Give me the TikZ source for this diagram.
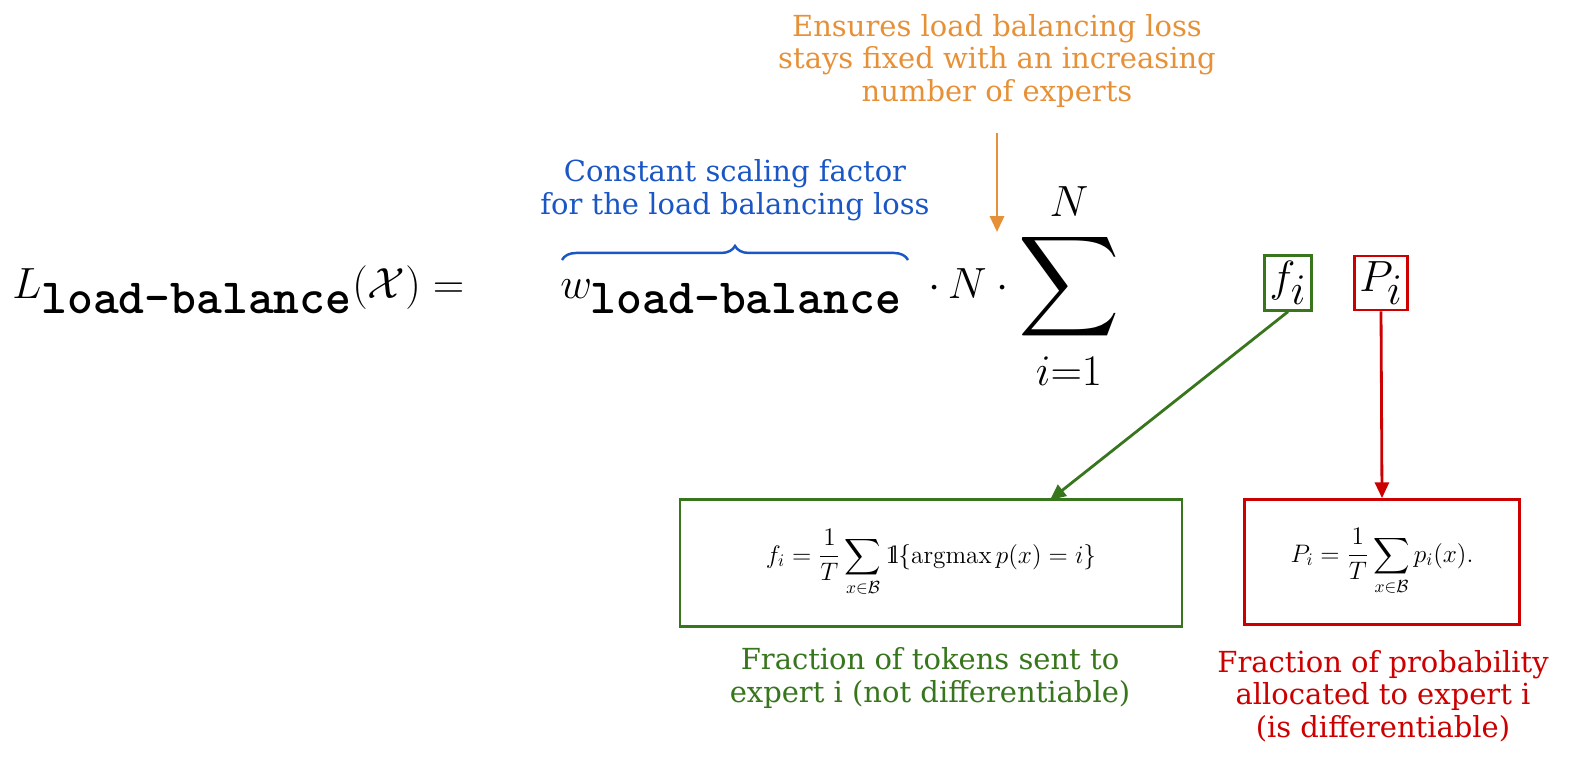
\documentclass[tikz,border=0pt]{standalone}
\usepackage{amsmath,amssymb}
\usepackage{fontspec}
\newfontfamily\ann{DejaVu Serif}
\usetikzlibrary{decorations.pathreplacing,arrows.meta}
\definecolor{cblue}{HTML}{1A56C4}
\definecolor{corange}{HTML}{E69138}
\definecolor{cgreen}{HTML}{38761D}
\definecolor{cred}{HTML}{CC0000}
\tikzset{
  px/.style={x=0.02cm,y=-0.02cm},
  big/.style={inner sep=0pt,font=\fontsize{40}{48}\selectfont},
  note/.style={font=\ann\fontsize{16.5}{18.5}\selectfont,align=center,inner sep=0pt},
  arr/.style={line width=1.6pt,-{Triangle[length=9pt,width=8pt]}},
  fbox/.style={draw,line width=1.6pt}
}
\newcommand{\ttsub}[1]{\textbf{\texttt{#1}}}
\newcommand{\indic}{\mathrm{1}\mkern-4.5mu\mathrm{l}}
\begin{document}
\begin{tikzpicture}[px]
\useasboundingbox (0,0) rectangle (1574,764);
% main equation
\node[big,anchor=base west] (lhs) at (12,298) {$L_{\ttsub{load-balance}}(\mathcal{X}) =$};
\node[big,anchor=base west] (w) at (560,298) {$w_{\ttsub{load-balance}}$};
\node[big,anchor=base west] (sum) at (928,298) {$\displaystyle\cdot\, N \cdot \sum_{i=1}^{N}$};
\node[big,fbox,draw=cgreen,inner sep=3pt] (f) at (1288,283) {$f_i$};
\node[big,fbox,draw=cred,inner sep=3pt] (P) at (1381,283) {$P_i$};
% brace
\draw[cblue,line width=1.4pt,decorate,decoration={brace,amplitude=8pt}]
  (562,260) coordinate (b1) -- (908,260) coordinate (b2);
\node[note,text=cblue] (blue) at (735,190) {Constant scaling factor\\for the load balancing loss};
% orange
\node[note,text=corange] (orange) at (997,61) {Ensures load balancing loss\\stays fixed with an increasing\\number of experts};
\coordinate (oa) at (997,232);
\coordinate (os) at (997,133);
\draw[arr,corange] (os) -- (oa);
% boxes
\node[fbox,draw=cgreen,minimum width=502*0.02cm,minimum height=127*0.02cm,font=\Large] (fb) at (931,563)
  {$\displaystyle f_i = \frac{1}{T}\sum_{x\in\mathcal{B}} \indic\{\operatorname{argmax} p(x) = i\}$};
\node[fbox,draw=cred,minimum width=275*0.02cm,minimum height=125*0.02cm,font=\Large] (pb) at (1382,562)
  {$\displaystyle P_i = \frac{1}{T}\sum_{x\in\mathcal{B}} p_i(x).$};
\coordinate (ge) at (1050,500);
\draw[arr,cgreen] (f.south) -- (ge);
\draw[arr,cred] (P.south) -- (pb.north);
\node[note,text=cgreen] (gt) at (930,678) {Fraction of tokens sent to\\expert i (not differentiable)};
\node[note,text=cred] (rt) at (1383,696) {Fraction of probability\\allocated to expert i\\(is differentiable)};
\end{tikzpicture}
\end{document}
